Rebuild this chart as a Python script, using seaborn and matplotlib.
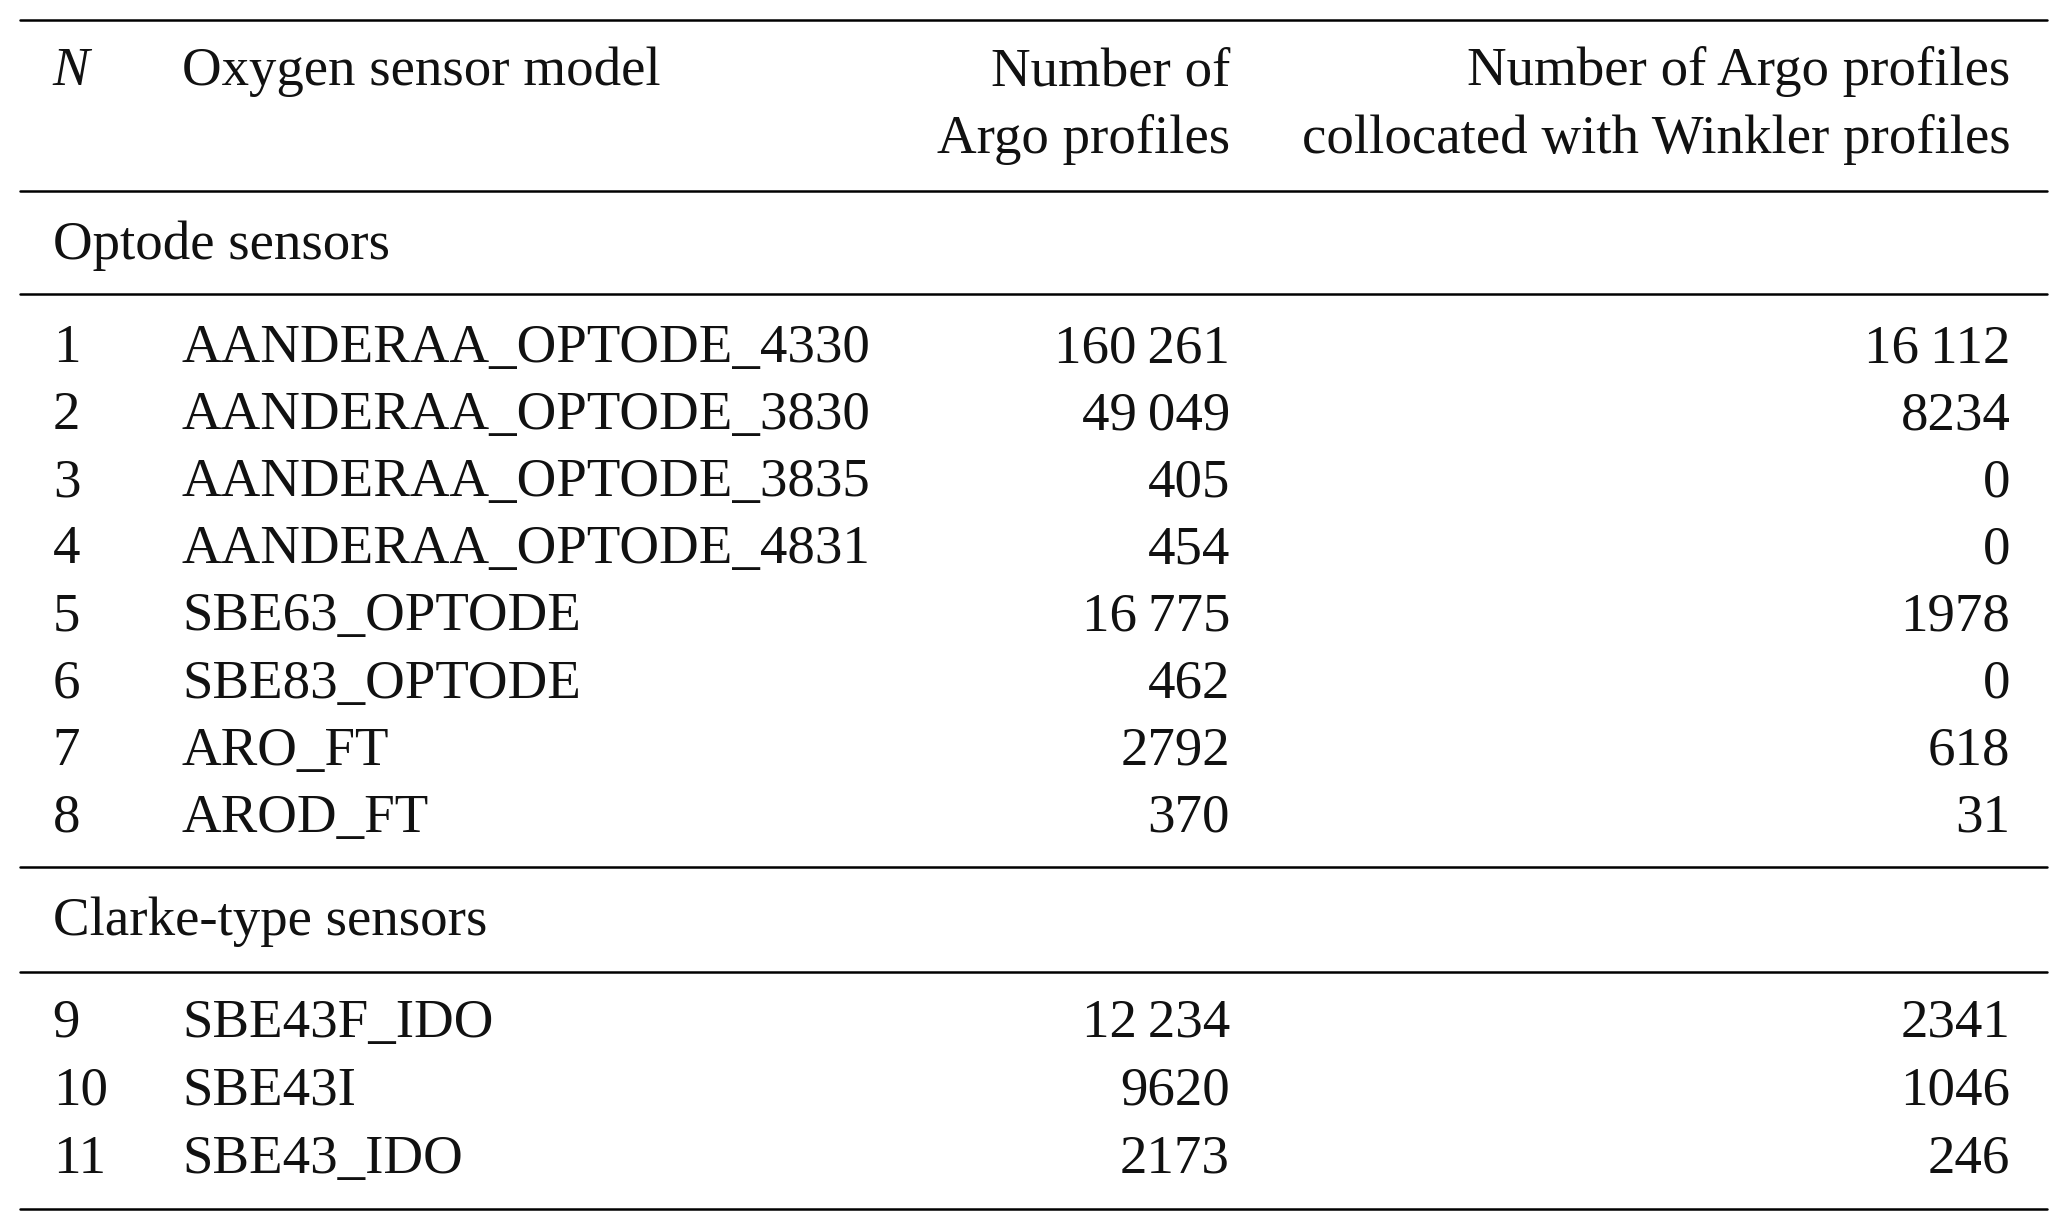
import matplotlib
matplotlib.use("Agg")
import matplotlib.pyplot as plt
import seaborn as sns

# table data
n_optode = ["1", "2", "3", "4", "5", "6", "7", "8"]
models_optode = ["AANDERAA_OPTODE_4330", "AANDERAA_OPTODE_3830", "AANDERAA_OPTODE_3835",
                 "AANDERAA_OPTODE_4831", "SBE63_OPTODE", "SBE83_OPTODE", "ARO_FT", "AROD_FT"]
argo_optode = ["160\u2009261", "49\u2009049", "405", "454", "16\u2009775", "462", "2792", "370"]
winkler_optode = ["16\u2009112", "8234", "0", "0", "1978", "0", "618", "31"]

n_clarke = ["9", "10", "11"]
models_clarke = ["SBE43F_IDO", "SBE43I", "SBE43_IDO"]
argo_clarke = ["12\u2009234", "9620", "2173"]
winkler_clarke = ["2341", "1046", "246"]

sns.set_theme(style="white")
plt.rcParams["font.family"] = ["Liberation Serif", "DejaVu Serif"]

H = 933.0
W = 1568.0
fs = 39.5

fig = plt.figure(figsize=(20.67, 12.30), dpi=100)
ax = fig.add_axes([0, 0, 1, 1])
ax.set_xlim(0, W)
ax.set_ylim(H, 0)
ax.axis("off")

x_n, x_model, x_argo, x_wink = 40, 138, 933, 1525


def rule(y, lw=1.8):
    ax.plot([15, 1553], [y, y], color="black", linewidth=lw)


def txt(x, y, s, ha="left", **kw):
    ax.text(x, y, s, ha=ha, va="center_baseline", fontsize=fs, color="#111111", **kw)


rule(15)
txt(x_n, 50, "N", style="italic")
txt(x_model, 50, "Oxygen sensor model")
txt(x_argo, 50, "Number of", ha="right")
txt(x_argo, 101, "Argo profiles", ha="right")
txt(x_wink, 50, "Number of Argo profiles", ha="right")
txt(x_wink, 101, "collocated with Winkler profiles", ha="right")
rule(145)
txt(x_n, 182, "Optode sensors")
rule(223)
for i, (n, m, a, w) in enumerate(zip(n_optode, models_optode, argo_optode, winkler_optode)):
    y = 260 + i * 50.9
    txt(x_n, y, n)
    txt(x_model, y, m)
    txt(x_argo, y, a, ha="right")
    txt(x_wink, y, w, ha="right")
rule(658)
txt(x_n, 695, "Clarke-type sensors")
rule(737)
for i, (n, m, a, w) in enumerate(zip(n_clarke, models_clarke, argo_clarke, winkler_clarke)):
    y = 772 + i * 51.5
    txt(x_n, y, n)
    txt(x_model, y, m)
    txt(x_argo, y, a, ha="right")
    txt(x_wink, y, w, ha="right")
rule(917)

fig.savefig("out.png", dpi=100, facecolor="white")
